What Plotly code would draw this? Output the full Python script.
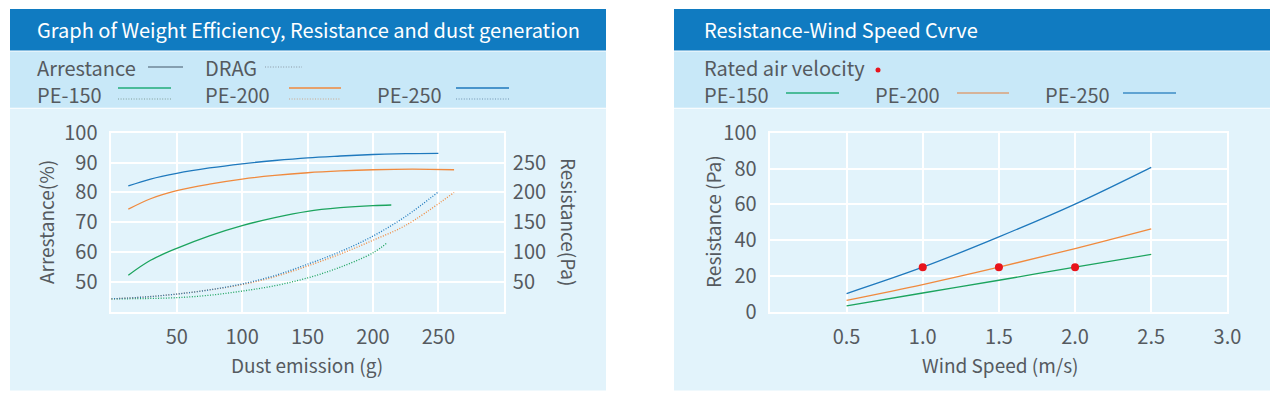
import plotly.graph_objects as go

W, H = 1280, 398

# ---------------- data ----------------
# Left chart: Arrestance (%) vs dust emission (g)
arr150_x = [13, 30, 50, 75, 100, 125, 150, 175, 200, 214]
arr150_y = [52.3, 57.3, 61.3, 65.5, 68.9, 71.6, 73.7, 74.9, 75.6, 75.8]
arr200_x = [13, 30, 50, 75, 100, 125, 150, 175, 200, 230, 262]
arr200_y = [74.4, 77.9, 80.6, 82.8, 84.5, 85.7, 86.6, 87.2, 87.6, 87.8, 87.6]
arr250_x = [13, 30, 50, 75, 100, 125, 150, 175, 200, 225, 250]
arr250_y = [82.2, 84.5, 86.4, 88.2, 89.6, 90.7, 91.6, 92.2, 92.7, 93.0, 93.1]

# Left chart: DRAG resistance (Pa) vs dust emission (g)
drag150_x = [0, 25, 50, 75, 100, 125, 150, 175, 200, 211]
drag150_y = [22, 22.5, 24, 28, 35, 44, 57, 75, 99, 116]
drag200_x = [0, 25, 50, 75, 100, 125, 150, 175, 200, 225, 262]
drag200_y = [22, 25, 30, 37, 46, 59, 77, 97, 120, 145, 200]
drag250_x = [0, 25, 50, 75, 100, 125, 150, 175, 200, 225, 250]
drag250_y = [22, 25, 30, 37, 47, 61, 80, 101, 127, 160, 201]

# Right chart: resistance (Pa) vs wind speed (m/s)
wind_x = [0.5, 1.0, 1.5, 2.0, 2.5]
res150 = [3.4, 10.6, 17.7, 25.0, 32.1]
res200 = [6.5, 15.3, 25.0, 35.4, 46.4]
res250 = [10.3, 25.0, 41.9, 60.2, 80.7]
rated_x = [1.0, 1.5, 2.0]
rated_y = [25, 25, 25]

left_x_ticks = [50, 100, 150, 200, 250]
left_y_ticks = [50, 60, 70, 80, 90, 100]
right_axis_ticks = [50, 100, 150, 200, 250]
wind_ticks = [0.5, 1.0, 1.5, 2.0, 2.5, 3.0]
wind_labels = ["0.5", "1.0", "1.5", "2.0", "2.5", "3.0"]
res_ticks = [0, 20, 40, 60, 80, 100]

# ---------------- style ----------------
FONT = "Noto Sans CJK SC"
C_BLUE = "#1f79bd"
C_ORANGE = "#f08a3e"
C_GREEN = "#1ca45e"
C_RED = "#e8141c"
BAR = "#107bc1"
BAND = "#c8e8f8"
PLOTBG = "#e2f3fb"
TXT = "#555a5f"
DOT = "1px,1.6px"


def X(px):
    return px / W


def Y(py):
    return 1 - py / H


fig = go.Figure()

for xs, ys, c, n in [(arr150_x, arr150_y, C_GREEN, "PE-150"),
                     (arr200_x, arr200_y, C_ORANGE, "PE-200"),
                     (arr250_x, arr250_y, C_BLUE, "PE-250")]:
    fig.add_trace(go.Scatter(x=xs, y=ys, mode="lines", name=n,
                             line=dict(color=c, width=1.3, shape="spline"),
                             xaxis="x", yaxis="y", showlegend=False))
for xs, ys, c, n in [(drag150_x, drag150_y, C_GREEN, "PE-150"),
                     (drag200_x, drag200_y, C_ORANGE, "PE-200"),
                     (drag250_x, drag250_y, C_BLUE, "PE-250")]:
    fig.add_trace(go.Scatter(x=xs, y=ys, mode="lines", name=n,
                             line=dict(color=c, width=1.3, dash=DOT, shape="spline"),
                             xaxis="x", yaxis="y2", showlegend=False))
for ys, c, n in [(res150, C_GREEN, "PE-150"), (res200, C_ORANGE, "PE-200"),
                 (res250, C_BLUE, "PE-250")]:
    fig.add_trace(go.Scatter(x=wind_x, y=ys, mode="lines", name=n,
                             line=dict(color=c, width=1.3, shape="spline"),
                             xaxis="x3", yaxis="y3", showlegend=False))
fig.add_trace(go.Scatter(x=rated_x, y=rated_y, mode="markers", name="Rated air velocity",
                         marker=dict(color=C_RED, size=8),
                         xaxis="x3", yaxis="y3", showlegend=False))

tickfont = dict(family=FONT, size=20, color=TXT)
grid = dict(showgrid=True, gridcolor="white", gridwidth=1.6, zeroline=False,
            showline=True, linecolor="white", linewidth=1.6, mirror=True,
            ticks="", tickfont=tickfont, fixedrange=True, automargin=False)

yd = [Y(312), Y(132.7)]
fig.update_layout(
    width=W, height=H, margin=dict(l=0, r=0, t=0, b=0, pad=0, autoexpand=False),
    paper_bgcolor="white", plot_bgcolor="rgba(0,0,0,0)",
    xaxis=dict(domain=[X(111.3), X(503.8)], range=[0, 300], tickvals=left_x_ticks,
               anchor="y", ticklabelstandoff=6, **grid),
    yaxis=dict(domain=yd, range=[40, 100], tickvals=left_y_ticks, anchor="x",
               ticklabelstandoff=8, **grid),
    yaxis2=dict(range=[0, 300], tickvals=right_axis_ticks, overlaying="y", side="right",
                anchor="x", showgrid=False, zeroline=False, showline=False, ticks="",
                tickfont=tickfont, ticklabelstandoff=8, fixedrange=True, automargin=False),
    xaxis3=dict(domain=[X(770.4), X(1227.4)], range=[0, 3], tickvals=wind_ticks,
                ticktext=wind_labels, anchor="y3", ticklabelstandoff=6, **grid),
    yaxis3=dict(domain=yd, range=[0, 100], tickvals=res_ticks, anchor="x3",
                ticklabelstandoff=8, **grid),
)

shapes = []
ann = []


def rect(x0, y0, x1, y1, color):
    shapes.append(dict(type="rect", xref="paper", yref="paper", x0=X(x0), x1=X(x1),
                       y0=Y(y1), y1=Y(y0), fillcolor=color, line=dict(width=0),
                       layer="below"))


def seg(x0, x1, y, color, dash="solid", width=1.3):
    shapes.append(dict(type="line", xref="paper", yref="paper", x0=X(x0), x1=X(x1),
                       y0=Y(y), y1=Y(y), line=dict(color=color, width=width, dash=dash)))


def text(s, x, y, size=20, color=TXT, xanchor="left", angle=0):
    ann.append(dict(text=s, x=X(x), y=Y(y), xref="paper", yref="paper", showarrow=False,
                    xanchor=xanchor, yanchor="middle", textangle=angle,
                    font=dict(family=FONT, size=size, color=color)))


for (a, b) in [(10, 606), (674, 1270)]:
    rect(a, 9, b, 50.5, BAR)
    rect(a, 51.5, b, 107.7, BAND)
    rect(a, 108.7, b, 390.5, PLOTBG)

text("Graph of Weight Efficiency, Resistance and dust generation", 35, 29, 20, "white")
text("Arrestance", 35, 67)
seg(148, 183, 67, "#6f8799")
text("DRAG", 203, 67)
seg(265, 302, 67, "#8a97a3", DOT, 1)
text("PE-150", 35, 94)
seg(118, 171, 88, "#22ad7a")
seg(118, 171, 99, "#7f9c98", DOT, 1)
text("PE-200", 203, 94)
seg(289, 341, 88, C_ORANGE)
seg(289, 341, 99, "#c9a58a", DOT, 1)
text("PE-250", 375, 94)
seg(456, 509, 88, C_BLUE)
seg(456, 509, 99, "#6f93b0", DOT, 1)

text("Arrestance(%)", 45, 222, 19, TXT, "center", -90)
text("Resistance(Pa)", 570, 222, 19, TXT, "center", 90)
text("Dust emission (g)", 307, 364, 19, TXT, "center")

text("Resistance-Wind Speed Cvrve", 702, 29, 20, "white")
text("Rated air velocity", 702, 67)
shapes.append(dict(type="circle", xref="paper", yref="paper", x0=X(875.5), x1=X(880.5),
                   y0=Y(72.5), y1=Y(67.5), fillcolor=C_RED, line=dict(width=0)))
text("PE-150", 702, 94)
seg(786, 839, 93, "#22ad7a")
text("PE-200", 873, 94)
seg(957, 1009, 93, "#dba27a")
text("PE-250", 1043, 94)
seg(1123, 1176, 93, "#3d8cc6")

text("Resistance (Pa)", 712, 222, 19, TXT, "center", -90)
text("Wind Speed (m/s)", 1000, 364, 19, TXT, "center")

fig.update_layout(shapes=shapes, annotations=ann)
fig.write_html("out.html", config={"displayModeBar": False},
               post_script="document.body.style.margin='0';document.body.style.overflow='hidden';")
